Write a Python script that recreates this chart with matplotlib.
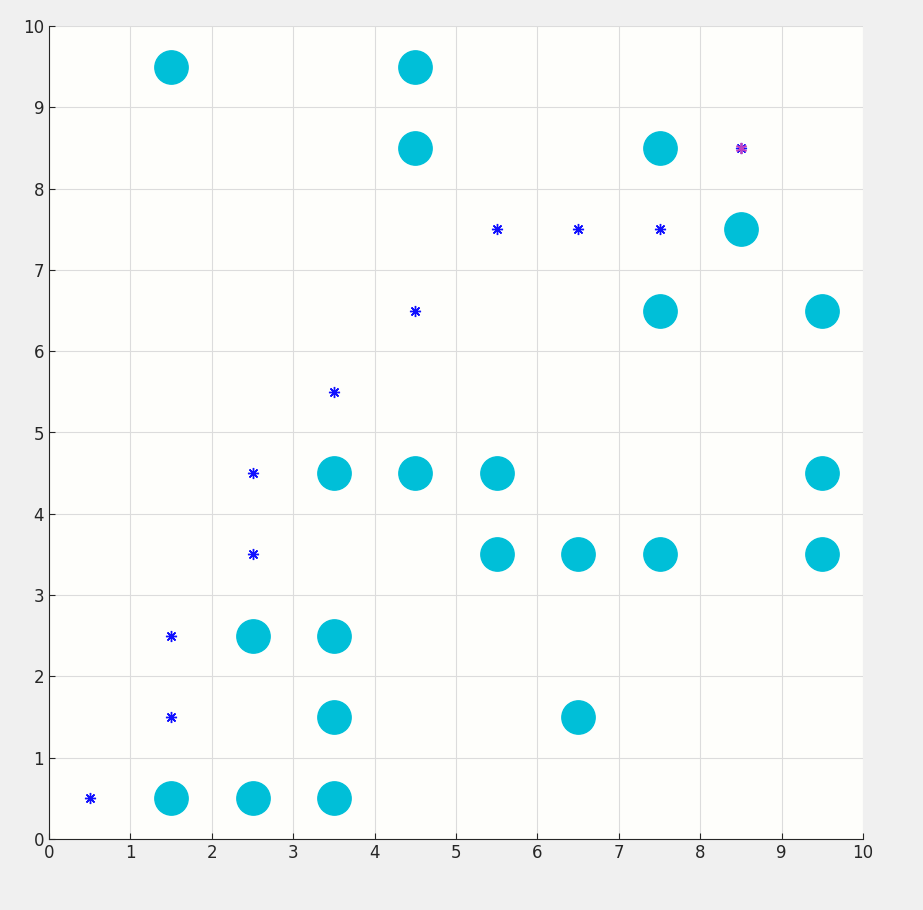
import matplotlib.pyplot as plt

# obstacles (cyan circles)
obs_x = [1.5, 4.5, 4.5, 7.5, 8.5, 7.5, 9.5, 3.5, 4.5, 5.5, 9.5, 5.5, 6.5, 7.5, 9.5,
         2.5, 3.5, 3.5, 6.5, 1.5, 2.5, 3.5]
obs_y = [9.5, 9.5, 8.5, 8.5, 7.5, 6.5, 6.5, 4.5, 4.5, 4.5, 4.5, 3.5, 3.5, 3.5, 3.5,
         2.5, 2.5, 1.5, 1.5, 0.5, 0.5, 0.5]
# path (blue asterisks)
path_x = [0.5, 1.5, 1.5, 2.5, 2.5, 3.5, 4.5, 5.5, 6.5, 7.5, 8.5]
path_y = [0.5, 1.5, 2.5, 3.5, 4.5, 5.5, 6.5, 7.5, 7.5, 7.5, 8.5]
goal = (8.5, 8.5)

fig = plt.figure(figsize=(9.23, 9.10), dpi=100, facecolor='#f0f0f0')
ax = fig.add_axes([49/923, 1 - 839/910, 814/923, 813/910])
ax.set_facecolor('#fefefb')

ax.plot(obs_x, obs_y, 'o', color='#00bfd8', markersize=24, linestyle='none')
ax.plot(path_x, path_y, linestyle='none', marker=(8, 2, 0), color='#1010ff',
        markersize=8, markeredgewidth=1)
ax.plot(*goal, linestyle='none', marker=(6, 2, 0), color='#c040c0',
        markersize=8, markeredgewidth=1.2)

ax.set_xlim(0, 10)
ax.set_ylim(0, 10)
ax.set_xticks(range(11))
ax.set_yticks(range(11))
ax.grid(True, color='#dcdcdc', linewidth=0.8)
ax.set_axisbelow(True)
for s in ['top', 'right']:
    ax.spines[s].set_visible(False)
for s in ['left', 'bottom']:
    ax.spines[s].set_color('#262626')
ax.tick_params(labelsize=12, colors='#262626', direction='in', length=4)
ax.tick_params(axis='x', top=False)

fig.savefig('out.png', facecolor=fig.get_facecolor())
